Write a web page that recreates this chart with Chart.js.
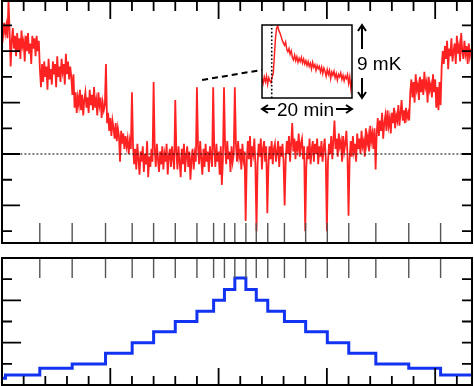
<!DOCTYPE html>
<html>
<head>
<meta charset="utf-8">
<script src="https://cdn.jsdelivr.net/npm/chart.js@4.4.1/dist/chart.umd.min.js"></script>
<style>
  html, body { margin: 0; padding: 0; background: #fff; }
  body { width: 474px; height: 386px; position: relative; overflow: hidden; font-family: "Liberation Sans", Arial, sans-serif; }
  canvas { position: absolute; }
  #top { left: 0; top: 0; width: 474px; height: 250px; }
  #bot { left: 0; top: 250px; width: 474px; height: 136px; }
  #inset { left: 255px; top: 18px; width: 120px; height: 100px; }
  .lbl { position: absolute; font-size: 19px; line-height: 19px; color: #000; background: #fff; white-space: nowrap; }
</style>
</head>
<body>
<canvas id="top" width="474" height="250"></canvas>
<canvas id="bot" width="474" height="136"></canvas>
<canvas id="inset" width="120" height="100"></canvas>
<div class="lbl" id="lblK" style="left:357px; top:49px; padding:5px 0;">9 mK</div>
<div class="lbl" id="lblMin" style="left:275px; top:100px; padding:0 2px;">20 min</div>
<script>
// ---------------- DATA ----------------
// time axis (regular ticks) and step times (irregular ticks / current steps)
const timeTicks = [0,1,2,3,4,5,6,7,8,9,10,11,12,13,14,15,16,17,18,19,20,21];
const stepTimes = [1.745, 3.24, 4.78, 6.01, 7.0, 8.0, 9.0, 9.77, 10.27, 10.75, 11.26, 11.74, 12.27, 13.04, 14.02, 15.02, 16.01, 17.26, 18.78, 20.25];
const tempTicks = [-3,-2,-1,0,1,2,3,4,5];
const currentTicks = [1,2,3,4,5];
const referenceLevel = 0;

// red temperature trace, sampled every redSampleStep time units, in segments between steps
const redSampleStep = 0.05;
const redA = [4.9,4.6,5.1,4.7,5.0,4.5,6.0,4.8,3.4,4.4,4.9,4.1,4.6,3.8,4.7,4.0,4.5,3.7,4.8,4.2,4.4,3.6,4.6,4.0,4.7,3.9,4.3,3.5,4.6,4.1,4.5,3.8,4.6,4.0,4.4];
const redB = [3.3,2.6,3.5,2.8,3.6,3.0,3.4,2.5,3.7,2.9,3.3,2.7,3.6,3.1,3.5,2.6,3.8,3.0,3.4,2.8,3.7,3.2,3.5,2.7,3.9,3.1,3.6,2.9,3.4,3.0];
const redC = [2.3,3.1,1.8,2.4,1.6,2.2,1.9,2.5,1.7,2.3,1.5,2.1,2.4,1.8,2.2,1.6,2.5,1.9,2.3,1.7,2.6,1.8,2.1,1.5,2.4,1.9,2.2,1.4,2.0,1.7,1.9];
const redD = [3.5,1.2,1.6,0.9,1.4,0.7,1.3,1.0,0.6,1.2,0.5,1.0,0.7,-0.3,0.9,0.4,0.8,0.2,0.7,0.3,0.6,0.0,0.5,0.2];
const redE = [2.4,0.3,-0.4,0.2,-0.6,0.4,-0.2,-0.8,0.1,-0.3,0.3,-0.7,0.0,-0.4,0.5,-0.9,-0.1,-0.5,0.2,-0.3];
const redF = [2.8,0.2,-0.5,0.4,-0.2,-0.7,0.1,-0.4,0.3,-0.6,0.0,-0.3,0.4,-0.8,-0.1,0.2,-0.5,0.3,-0.2,-0.6];
const redG = [2.1,0.1,-0.6,0.3,-0.3,-0.9,0.2,-0.4,0.4,-0.7,-0.1,0.3,-0.5,0.1,-1.0,-0.2,0.2,-0.6,0.0,-0.3];
const redH = [2.6,0.3,-0.4,0.5,-0.2,-0.8,0.2,-0.5,0.4,-0.3,0.1,-0.7,0.3,-0.1,-0.5];
const redI = [2.6,0.2,-0.5,0.4,-0.3,0.1,-0.8,0.3,-1.2,-0.2];
const redJ = [2.6,0.3,-0.4,0.5,-0.2,0.1,-0.7,0.3,-0.3,0.0];
const redK = [2.6,0.4,-0.3,0.5,-0.1,0.2,-0.6,0.4,-0.2,0.1];
const redL1 = [-2.6,-0.3,0.5,-0.2,0.7,-0.5,0.3,0.0,0.6,-0.4];
const redL2 = [-3.0,-0.4,0.4,-0.1,0.6,-0.6,0.2,0.5,-0.3,0.3];
const redL3 = [-2.3,-0.5,0.3,-0.2,0.5,-0.4,0.2,0.4,-0.3,0.1,0.5,-0.5,0.3,-0.1,0.4,-0.3];
const redL4 = [-2.0,-0.2,0.5,0.0,0.7,-0.3,0.4,1.2,0.1,0.6,-0.2,0.5,0.2,0.8,-0.1,0.4,0.6,-0.2,0.3];
const redL5 = [-3.0,-0.5,0.3,-0.2,0.6,-0.4,0.2,0.5,-0.3,0.4,0.0,0.6,-0.4,0.3,-0.1,0.5,-0.3,0.2,0.6,-0.2];
const redL6 = [-3.0,-0.3,0.4,0.0,0.7,-0.2,0.5,1.3,0.2,0.6,-0.1,0.8,0.3,0.5,-0.3,0.7,0.1,0.4,0.9,0.0];
const redL7 = [-2.4,-0.2,0.5,-0.1,0.7,0.1,0.4,-0.3,0.8,0.2,0.6,0.0,0.9,0.3,0.5,-0.1,1.0,0.4,0.7,0.1,1.1,0.5,0.8,0.2,1.0];
const redM = [-0.6,0.8,1.4,0.7,1.3,0.9,1.6,0.6,1.2,1.5,0.9,1.7,1.1,1.4,0.8,1.6,1.2,1.8,1.0,1.5,1.3,1.9,1.1,1.6,2.1,1.3,1.7,1.2,1.8,1.4,1.6];
const redN = [1.3,2.4,2.9,2.2,2.8,2.0,3.1,2.5,2.7,2.1,3.0,2.4,2.9,2.3,3.2,2.6,2.8,2.0,3.0,2.5,2.7,2.2,3.1,2.4,2.9,1.8,2.6,1.7,2.8];
const redO = [1.9,3.4,4.0,3.5,4.2,3.7,4.4,3.3,4.1,3.8,4.5,3.6,4.0,4.3,3.5,4.6,3.9,4.2,3.6,4.7,4.0,3.7,4.4,3.9,4.2,3.5,4.3,3.8,4.1];

// blue current staircase: level starting at each time
const blueTimes = [0, 0.16].concat(stepTimes, [21.7]);
const blueLevels = [0.32, 0.47, 0.79, 0.99, 1.5, 2.0, 2.51, 3.0, 3.49, 4.0, 4.51, 5.05, 4.51, 4.0, 3.49, 3.0, 2.51, 2.0, 1.5, 0.99, 0.79, 0.47, 0.47];

// inset: zoom on one pulse (20 min wide, 9 mK tall)
const insetSampleStep = 0.25;
const insetBefore = [2.4,1.8,2.6,2.0,2.7,1.7,2.5,2.1,1.9,2.6];
const insetAfter = [3.0,5.2,7.4,8.6,8.9,8.3,8.0,7.6,7.1,6.8,6.5,6.9,6.0,5.7,6.1,5.4,5.8,5.0,4.7,5.3,4.6,5.1,4.4,4.9,4.5,5.0,4.3,4.8,4.2,4.6,4.0,4.5,3.9,4.3,3.6,4.4,3.8,4.1,3.4,4.0,3.6,3.9,3.2,3.8,3.0,3.7,3.3,2.7,3.5,2.9,3.4,2.4,3.2,2.8,3.3,2.5,3.0,2.2,2.9,2.6,3.1,2.3,2.8,2.1,2.7,2.4,2.9,1.8,2.6,1.2,2.3];
const insetPulseTime = 2.16;
const insetSpan = 20, insetHeight = 9;

// callout (dashed line) from the pulse in the main trace to the inset, in main-data units
const calloutFrom = {x: 9.24, y: 2.88};
const calloutTo = {x: 12.0, y: 3.27};

// ---------------- BUILD ----------------
const redValues = [].concat(redA, redB, redC, redD, redE, redF, redG, redH, redI, redJ, redK,
  redL1, redL2, redL3, redL4, redL5, redL6, redL7, redM, redN, redO);
const redPoints = redValues.map((v, i) => ({x: i * redSampleStep, y: v}));
const bluePoints = blueTimes.map((t, i) => ({x: t, y: blueLevels[i]}));
const insetValues = insetBefore.concat(insetAfter);
const insetPoints = insetValues.map((v, i) => ({x: i * insetSampleStep, y: v}));

function framePlugin(sides, extra) {
  return {
    id: 'frame',
    afterDatasetsDraw(chart) {
      const {ctx, chartArea: a, scales} = chart;
      ctx.save();
      sides.forEach(s => {
        ctx.strokeStyle = s.color; ctx.lineWidth = s.width; ctx.lineCap = 'butt';
        ctx.beginPath();
        s.values.forEach(v => {
          const L = s.len(v);
          if (s.side === 'top' || s.side === 'bottom') {
            const p = scales.x.getPixelForValue(v);
            if (p < a.left + 2 || p > a.right - 2) return;
            const y0 = s.side === 'top' ? a.top : a.bottom;
            const d = s.side === 'top' ? 1 : -1;
            ctx.moveTo(p, y0); ctx.lineTo(p, y0 + d * L);
          } else {
            const p = scales.y.getPixelForValue(v);
            if (p < a.top + 2 || p > a.bottom - 2) return;
            const x0 = s.side === 'left' ? a.left : a.right;
            const d = s.side === 'left' ? 1 : -1;
            ctx.moveTo(x0, p); ctx.lineTo(x0 + d * L, p);
          }
        });
        ctx.stroke();
      });
      ctx.strokeStyle = '#000'; ctx.lineWidth = 2;
      ctx.strokeRect(a.left, a.top, a.right - a.left, a.bottom - a.top);
      if (extra) extra(chart);
      ctx.restore();
    }
  };
}

const baseOpts = (pad, xr, yr) => ({
  responsive: false, animation: false, events: [], devicePixelRatio: 1,
  layout: {padding: pad},
  plugins: {legend: {display: false}, tooltip: {enabled: false}},
  elements: {point: {radius: 0}, line: {tension: 0}},
  scales: {
    x: {type: 'linear', display: false, min: xr[0], max: xr[1]},
    y: {type: 'linear', display: false, min: yr[0], max: yr[1]}
  }
});

// top panel
new Chart(document.getElementById('top'), {
  type: 'line',
  data: {datasets: [
    {data: [{x: 0.85, y: referenceLevel}, {x: 21.6, y: referenceLevel}], borderColor: '#000', borderWidth: 1, borderDash: [2, 2]},
    {data: redPoints, borderColor: '#ff2222', borderWidth: 1.8}
  ]},
  options: baseOpts({left: 2, right: 2, top: 1, bottom: 7}, [0, 21.7], [-3.46, 5.95]),
  plugins: [framePlugin([
    {side: 'top', values: timeTicks, len: v => v % 5 === 0 ? 18 : 10, color: '#000', width: 1.8},
    {side: 'bottom', values: stepTimes, len: () => 20, color: '#555', width: 1.4},
    {side: 'left', values: tempTicks, len: v => v % 2 === 0 ? 18 : 10, color: '#000', width: 1.8},
    {side: 'right', values: tempTicks, len: () => 10, color: '#000', width: 1.8}
  ], chart => {
    const {ctx, scales} = chart;
    ctx.strokeStyle = '#000'; ctx.lineWidth = 2; ctx.setLineDash([6, 4]);
    ctx.beginPath();
    ctx.moveTo(scales.x.getPixelForValue(calloutFrom.x), scales.y.getPixelForValue(calloutFrom.y));
    ctx.lineTo(scales.x.getPixelForValue(calloutTo.x), scales.y.getPixelForValue(calloutTo.y));
    ctx.stroke(); ctx.setLineDash([]);
  })]
});

// bottom panel
new Chart(document.getElementById('bot'), {
  type: 'line',
  data: {datasets: [
    {data: bluePoints, borderColor: '#1234f2', borderWidth: 3, stepped: true}
  ]},
  options: baseOpts({left: 2, right: 2, top: 8, bottom: 1}, [0, 21.7], [0, 6]),
  plugins: [framePlugin([
    {side: 'top', values: stepTimes, len: () => 20, color: '#555', width: 1.4},
    {side: 'bottom', values: timeTicks, len: v => v % 5 === 0 ? 17 : 9, color: '#000', width: 1.8},
    {side: 'left', values: currentTicks, len: v => v % 2 === 0 ? 19 : 10, color: '#000', width: 1.8},
    {side: 'right', values: currentTicks, len: () => 10, color: '#000', width: 1.8}
  ])]
});

// inset
function arrowHead(ctx, x, y, dx, dy) {
  const s = 6, w = 4;
  ctx.moveTo(x - dx * s - dy * w, y - dy * s + dx * w);
  ctx.lineTo(x, y);
  ctx.lineTo(x - dx * s + dy * w, y - dy * s - dx * w);
}
new Chart(document.getElementById('inset'), {
  type: 'line',
  data: {datasets: [
    {data: [{x: insetPulseTime, y: 0}, {x: insetPulseTime, y: insetHeight}], borderColor: '#000', borderWidth: 1.6, borderDash: [1.6, 2.2]},
    {data: insetPoints, borderColor: '#ff2222', borderWidth: 1.5}
  ]},
  options: baseOpts({left: 7, right: 23, top: 7, bottom: 20}, [0, insetSpan], [0, insetHeight]),
  plugins: [{
    id: 'insetBox',
    beforeDatasetsDraw(chart) {
      const {ctx, chartArea: a} = chart;
      ctx.save(); ctx.fillStyle = '#fff';
      ctx.fillRect(a.left, a.top, a.right - a.left, a.bottom - a.top);
      ctx.restore();
    },
    afterDatasetsDraw(chart) {
      const {ctx, chartArea: a} = chart;
      ctx.save();
      ctx.strokeStyle = '#000'; ctx.lineWidth = 1.5;
      ctx.strokeRect(a.left, a.top, a.right - a.left, a.bottom - a.top);
      ctx.lineWidth = 2;
      const vx = a.right + 10;
      ctx.beginPath();
      ctx.moveTo(vx, a.top); ctx.lineTo(vx, a.bottom);
      arrowHead(ctx, vx, a.top, 0, -1);
      arrowHead(ctx, vx, a.bottom, 0, 1);
      const hy = a.bottom + 11;
      ctx.moveTo(a.left, hy); ctx.lineTo(a.right, hy);
      arrowHead(ctx, a.left, hy, -1, 0);
      arrowHead(ctx, a.right, hy, 1, 0);
      ctx.stroke();
      ctx.restore();
    }
  }]
});
</script>
</body>
</html>
